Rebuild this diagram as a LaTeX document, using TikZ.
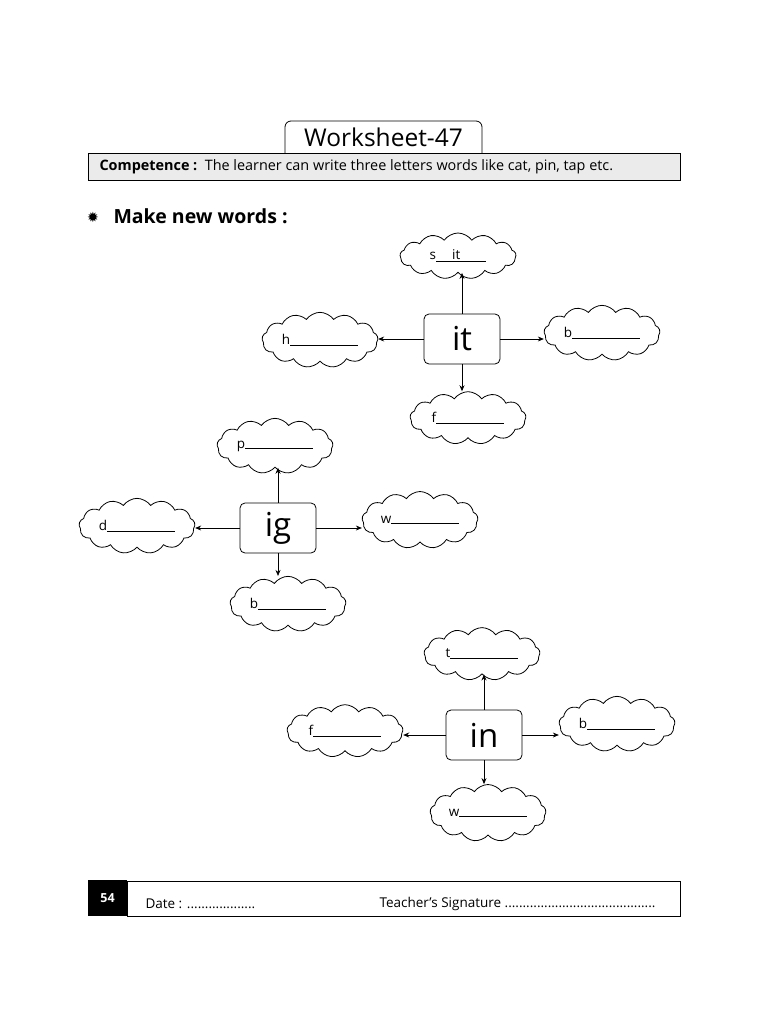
\documentclass[tikz,border=0pt]{standalone}
\usepackage{fontspec}
\setmainfont{Open Sans}
\newfontfamily\symfont{DejaVu Sans}
\usetikzlibrary{shapes.symbols,arrows.meta}
\newcommand{\blankln}[1]{#1\rule[-1pt]{68pt}{0.7pt}}
\begin{document}
\begin{tikzpicture}[x=1pt,y=-1pt,
  cl/.style={cloud,cloud puffs=13,cloud puff arc=110,aspect=2.5,draw,thick,minimum width=116pt,minimum height=46pt,inner sep=0pt,font=\fontsize{13.5}{14}\selectfont},
  bx/.style={draw,thick,rounded corners=5pt,minimum width=76pt,minimum height=50pt,font=\fontsize{33}{34}\selectfont},
  ar/.style={-{Stealth[length=6pt,width=5pt]},thick}]
\useasboundingbox (0,0) rectangle (768,1024);
\fill[white] (0,0) rectangle (768,1024);
% header
\draw[thick,rounded corners=6pt] (285,155) -- (285,121) -- (482,121) -- (482,155);
\node (title) at (383.5,137) {\fontsize{24.5}{26}\selectfont Worksheet-47};
\draw[thick,fill=black!8] (88,153) rectangle (680,180);
\node[anchor=west] (comp) at (96,166.5) {\fontsize{14.4}{16}\selectfont\textbf{Competence :}\ \ The learner can write three letters words like cat, pin, tap etc.};
\node (star) at (93,217) {\fontsize{14}{14}\selectfont\symfont ✹};
\node[anchor=west] (make) at (110,216) {\fontsize{19.5}{22}\selectfont\textbf{Make new words :}};
% it
\node[bx] (it) at (462,339) {it};
\node[cl] (it1) at (458,256) {s\underline{\hspace{16pt}it\hspace{26pt}}};
\node[cl] (it2) at (320,340) {\blankln{h}};
\node[cl] (it3) at (602,333) {\blankln{b}};
\node[cl] (it4) at (468,418) {\blankln{f}};
\draw[ar] (it.north) -- (it1.south-|it.north);
\draw[ar] (it.west) -- (it2.east|-it.west);
\draw[ar] (it.east) -- (it3.west|-it.east);
\draw[ar] (it.south) -- (it4.north-|it.south);
% ig
\node[bx] (ig) at (278,528) {ig};
\node[cl] (ig1) at (275,446) {\blankln{p}};
\node[cl] (ig2) at (137,526) {\blankln{d}};
\node[cl] (ig3) at (420,520) {\blankln{w}};
\node[cl] (ig4) at (288,604) {\blankln{b}};
\draw[ar] (ig.north) -- (ig1.south-|ig.north);
\draw[ar] (ig.west) -- (ig2.east|-ig.west);
\draw[ar] (ig.east) -- (ig3.west|-ig.east);
\draw[ar] (ig.south) -- (ig4.north-|ig.south);
% in
\node[bx] (in) at (484,735) {in};
\node[cl] (in1) at (482,654) {\blankln{t}};
\node[cl] (in2) at (345,731) {\blankln{f}};
\node[cl] (in3) at (617,724) {\blankln{b}};
\node[cl] (in4) at (488,813) {\blankln{w}};
\draw[ar] (in.north) -- (in1.south-|in.north);
\draw[ar] (in.west) -- (in2.east|-in.west);
\draw[ar] (in.east) -- (in3.west|-in.east);
\draw[ar] (in.south) -- (in4.north-|in.south);
% footer
\fill (88,880) rectangle (127,916);
\node[text=white] (pg) at (107.5,898) {\fontsize{12.5}{14}\selectfont\textbf{54}};
\draw[thick] (127,881) rectangle (680,916);
\node[anchor=west] (date) at (142,904) {\fontsize{13.5}{15}\selectfont Date : ...................};
\node[anchor=west] (sig) at (376,904) {\fontsize{13.5}{15}\selectfont Teacher's Signature ..........................................};
\end{tikzpicture}
\end{document}
